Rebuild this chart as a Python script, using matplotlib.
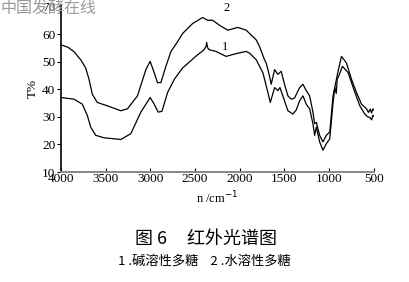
import matplotlib
matplotlib.use("Agg")
import matplotlib.pyplot as plt

# curve 2: water soluble polysaccharide (upper)
wn2 = [4000, 3920, 3854, 3779, 3723, 3686, 3649, 3593, 3481, 3330, 3256, 3144, 3050,
       3002, 2957, 2920, 2882, 2826, 2769, 2700, 2639, 2527, 2415, 2359, 2303,
       2227, 2134, 2022, 1928, 1816, 1779, 1723, 1704, 1667, 1648, 1610, 1573,
       1536, 1499, 1461, 1424, 1387, 1330, 1293, 1256, 1218, 1181, 1162, 1143,
       1106, 1069, 1031, 993, 956, 926, 900, 862, 806, 750, 694, 638, 582,
       560, 540, 526, 510, 500]
t2 = [56.1, 55.2, 53.6, 50.7, 47.7, 43.6, 38.2, 35.2, 34.0, 32.2, 32.9, 37.6, 47.1,
      50.1, 46.0, 42.4, 42.4, 48.3, 53.7, 57.0, 60.2, 63.8, 66.0, 65.0, 65.0,
      63.2, 61.4, 62.4, 61.4, 57.9, 55.5, 50.7, 49.5, 44.8, 41.8, 47.1, 45.4,
      46.5, 41.8, 37.6, 36.4, 36.8, 40.6, 41.8, 39.5, 37.6, 31.7, 27.5, 28.0,
      23.3, 20.9, 23.3, 24.5, 37.6, 42.4, 46.5, 51.9, 49.5, 43.6, 38.8, 34.6, 32.9,
      31.6, 32.8, 31.4, 32.9, 32.5]

# curve 1: alkali soluble polysaccharide (lower)
wn1 = [4000, 3854, 3761, 3705, 3667, 3611, 3518, 3330, 3218, 3106, 3002, 2957,
       2912, 2870, 2807, 2732, 2639, 2489, 2400, 2377, 2370, 2359, 2340, 2265,
       2153, 2041, 1928, 1891, 1816, 1741, 1685, 1658, 1610, 1573, 1550, 1499,
       1461, 1405, 1368, 1330, 1293, 1256, 1218, 1181, 1162, 1143, 1106, 1069,
       1031, 993, 956, 937, 920, 910, 890, 851, 787, 731, 657, 601, 570, 545,
       525, 510, 500]
t1 = [37.0, 36.4, 34.6, 30.5, 26.3, 23.3, 22.4, 21.8, 23.9, 31.7, 37.0, 34.6,
      31.7, 32.0, 38.8, 43.6, 47.7, 52.0, 54.3, 55.5, 57.0, 55.0, 54.3, 53.7,
      51.9, 52.9, 53.7, 53.1, 50.7, 46.0, 38.8, 35.2, 40.6, 39.5, 40.6, 35.8,
      32.2, 31.0, 32.5, 35.8, 37.6, 34.6, 32.9, 27.5, 23.3, 26.3, 20.9, 17.9,
      20.3, 22.0, 35.2, 40.6, 38.5, 43.6, 45.0, 48.3, 46.0, 40.6, 34.0, 31.0,
      30.0, 29.8, 28.9, 30.6, 30.2]

xticks = [4000, 3500, 3000, 2500, 2000, 1500, 1000, 500]
yticks = [10, 20, 30, 40, 50, 60, 70]

serif = "Liberation Serif"
cjk = ["Noto Sans CJK SC", "DejaVu Sans"]

fig = plt.figure(figsize=(4.09, 2.82), dpi=100)
ax = fig.add_axes([0.149, 0.390, 0.765, 0.592])

ax.plot(wn2, t2, color="black", linewidth=0.9)
ax.plot(wn1, t1, color="black", linewidth=0.9)

ax.set_xlim(4000, 500)
ax.set_ylim(10, 70.5)
ax.set_xticks(xticks)
ax.set_yticks(yticks)
ax.set_xticklabels([str(v) for v in xticks], family=serif, fontsize=9.5)
ax.set_yticklabels([str(v) for v in yticks], family=serif, fontsize=9.5)
ax.tick_params(axis="x", direction="in", length=3, width=0.8, pad=1)
ax.tick_params(axis="y", direction="out", length=3, width=0.8, pad=1)

ax.spines["top"].set_visible(False)
ax.spines["right"].set_visible(False)
ax.spines["left"].set_linewidth(1.2)
ax.spines["bottom"].set_linewidth(1.4)
ax.spines["bottom"].set_color("#888888")

ax.set_xlabel("n /cm$^{-1}$", family=serif, fontsize=9, labelpad=3)
ax.set_ylabel("T%", family=serif, fontsize=9.5, labelpad=2)

# curve labels
ax.text(2150, 69.6, "2", family=serif, fontsize=9, ha="center", va="center")
ax.text(2160, 55.2, "1", family=serif, fontsize=9, ha="center", va="center")

# captions
fig.text(0.504, 0.152, "图 6     红外光谱图", family=cjk, fontsize=13,
         ha="center", va="center", fontweight="light")
fig.text(0.50, 0.074, "1 .碱溶性多糖    2 .水溶性多糖", family=cjk,
         fontsize=9.5, ha="center", va="center")

# watermark
fig.text(0.0, 0.972, "中国发酵在线", family=cjk, fontsize=11.5,
         color="#9a9a9a", ha="left", va="center")

fig.savefig("out.png", dpi=100)
